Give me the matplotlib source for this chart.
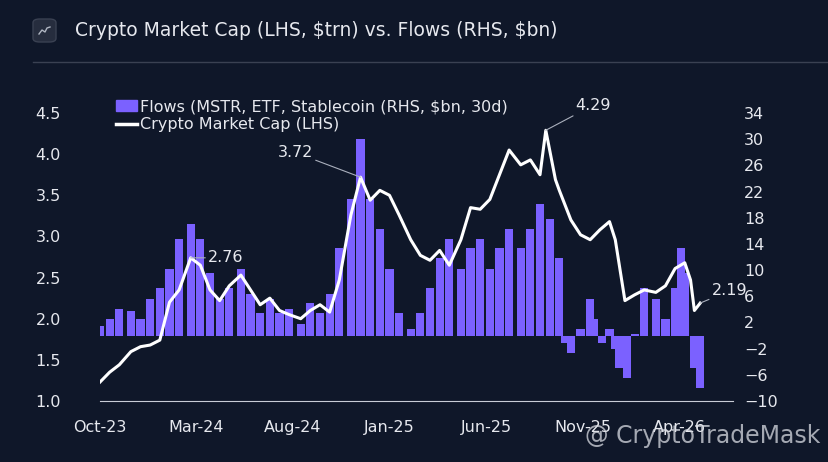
import numpy as np
import matplotlib.pyplot as plt
from matplotlib.patches import FancyBboxPatch, Patch
from matplotlib.lines import Line2D

plt.rcParams["text.parse_math"] = False

# months since Oct-23
cap_m = [0.0, 0.5, 1.0, 1.6, 2.1, 2.6, 3.1, 3.6, 4.1, 4.7, 5.2, 5.7, 6.2, 6.7, 7.3, 7.8, 8.3, 8.8, 9.3, 9.8,
         10.4, 10.9, 11.4, 11.9, 12.4, 13.0, 13.5, 14.0, 14.5, 15.0, 15.5, 16.1, 16.6, 17.1, 17.6, 18.1,
         18.7, 19.2, 19.7, 20.2, 20.7, 21.2, 21.8, 22.3, 22.8, 23.1, 23.6, 23.8, 24.4, 24.9, 25.4, 25.9,
         26.4, 26.7, 27.2, 27.7, 28.2, 28.8, 29.3, 29.8, 30.3, 30.6, 30.8, 31.1]
cap = [1.23, 1.35, 1.44, 1.60, 1.66, 1.68, 1.74, 2.20, 2.35, 2.74, 2.65, 2.35, 2.22, 2.40, 2.53, 2.35,
       2.17, 2.25, 2.10, 2.05, 2.00, 2.10, 2.17, 2.08, 2.47, 3.26, 3.72, 3.44, 3.56, 3.50, 3.26, 2.96,
       2.77, 2.71, 2.83, 2.65, 2.96, 3.35, 3.33, 3.45, 3.75, 4.05, 3.87, 3.93, 3.75, 4.29, 3.69, 3.56,
       3.20, 3.02, 2.96, 3.08, 3.18, 2.96, 2.22, 2.29, 2.35, 2.32, 2.40, 2.61, 2.68, 2.47, 2.10, 2.19]

flow_m = [0.0, 0.5, 1.0, 1.6, 2.1, 2.6, 3.1, 3.6, 4.1, 4.7, 5.2, 5.7, 6.2, 6.7, 7.3, 7.8, 8.3, 8.8, 9.3,
          9.8, 10.4, 10.9, 11.4, 11.9, 12.4, 13.0, 13.5, 14.0, 14.5, 15.0, 15.5, 16.1, 16.6, 17.1, 17.6,
          18.1, 18.7, 19.2, 19.7, 20.2, 20.7, 21.2, 21.8, 22.3, 22.8, 23.3, 23.8, 24.1, 24.4, 24.9, 25.4,
          25.6, 26.0, 26.4, 26.7, 26.9, 27.3, 27.7, 28.2, 28.8, 29.3, 29.8, 30.1, 30.3, 30.6, 30.8, 31.1]
flow = [1.4, 2.6, 4.1, 3.8, 2.6, 5.6, 7.2, 10.2, 14.8, 17.1, 14.8, 9.5, 5.6, 7.2, 10.2, 6.4, 3.4, 5.6,
        3.4, 4.1, 1.8, 4.9, 3.4, 6.4, 13.3, 20.9, 30.0, 20.9, 16.3, 10.2, 3.4, 1.0, 3.4, 7.2, 11.8, 14.8,
        10.2, 13.3, 14.8, 10.2, 13.3, 16.3, 13.3, 16.3, 20.1, 17.8, 11.8, -1.2, -2.7, 1.0, 5.6, 2.6, -1.2,
        1.0, -2.0, -5.0, -6.5, 0.3, 7.2, 5.6, 2.6, 7.2, 13.3, 9.5, 0.0, -5.0, -8.0]

tick_pos = [0, 5, 10, 15, 20, 25, 30]
tick_lab = ["Oct-23", "Mar-24", "Aug-24", "Jan-25", "Jun-25", "Nov-25", "Apr-26"]

bg = "#0f1729"
fg = "#e6e8ee"
purple = "#7b61ff"

fig = plt.figure(figsize=(8.29, 4.62), dpi=100, facecolor=bg)
ax = fig.add_axes([100/829, 1-401/462, 633/829, 288/462], facecolor=bg)
ax2 = ax.twinx()
ax.set_zorder(ax2.get_zorder() + 1)
ax.patch.set_visible(False)

ax2.bar(flow_m, flow, width=0.42, color=purple, linewidth=0)
ax2.set_ylim(-10, 34)
ax2.set_yticks(np.arange(-10, 35, 4))

ax.plot(cap_m, cap, color="white", lw=2.2)
ax.set_ylim(1.0, 4.5)
ax.set_yticks(np.arange(1.0, 4.51, 0.5))
ax.set_xlim(0, 32.8)
ax.set_xticks(tick_pos)
ax.set_xticklabels(tick_lab)

for a in (ax, ax2):
    for s in a.spines.values():
        s.set_visible(False)
    a.tick_params(colors=fg, labelsize=11.5, length=0, pad=8)
ax.spines["bottom"].set_visible(True)
ax.spines["bottom"].set_color("#c8ccd6")
ax.tick_params(axis="y", pad=28)
ax.tick_params(axis="x", pad=14)

# annotations
def note(i, txt, dx, dy):
    x, y = cap_m[i], cap[i]
    ax.annotate(txt, (x, y), xytext=(x + dx, y + dy), color=fg, fontsize=11.5,
                va="center", ha="left",
                arrowprops=dict(arrowstyle="-", color="#aab0bd", lw=0.8, shrinkA=0, shrinkB=0))
note(9, "2.76", 0.9, 0.0)
note(26, "3.72", -4.3, 0.3)
note(45, "4.29", 1.5, 0.3)
note(len(cap) - 1, "2.19", 0.6, 0.15)

handles = [Patch(color=purple), Line2D([], [], color="white", lw=2.5)]
labels = ["Flows (MSTR, ETF, Stablecoin (RHS, $bn, 30d)", "Crypto Market Cap (LHS)"]
ax.legend(handles, labels, loc="upper left", bbox_to_anchor=(0.015, 1.07), frameon=False,
          fontsize=11.5, labelcolor=fg, handlelength=1.3, handletextpad=0.2,
          labelspacing=0.2, borderaxespad=0)

# header
fig.text(75/829, 1-30/462, "Crypto Market Cap (LHS, $trn) vs. Flows (RHS, $bn)",
         color=fg, fontsize=13.5, va="center")
fig.patches.append(FancyBboxPatch((33/829, 1-42/462), 23/829, 23/462,
                                  boxstyle="round,pad=0,rounding_size=0.008",
                                  transform=fig.transFigure, facecolor="#262d3e", edgecolor="#3a4152"))
# small chart glyph inside the icon box
fig.add_artist(Line2D(np.array([39, 42, 45, 47, 50]) / 829, 1 - np.array([34, 30, 32, 28, 27]) / 462,
                      color="#b0b6c2", lw=1, transform=fig.transFigure))
fig.add_artist(Line2D([33/829, 1], [1-62/462] * 2, color="#3a4152", lw=1,
                      transform=fig.transFigure))
fig.text(0.99, 1-436/462, "@ CryptoTradeMask", color="#d8dbe2", alpha=0.75,
         fontsize=17, ha="right", va="center")

fig.savefig("out.png", dpi=100, facecolor=bg)
